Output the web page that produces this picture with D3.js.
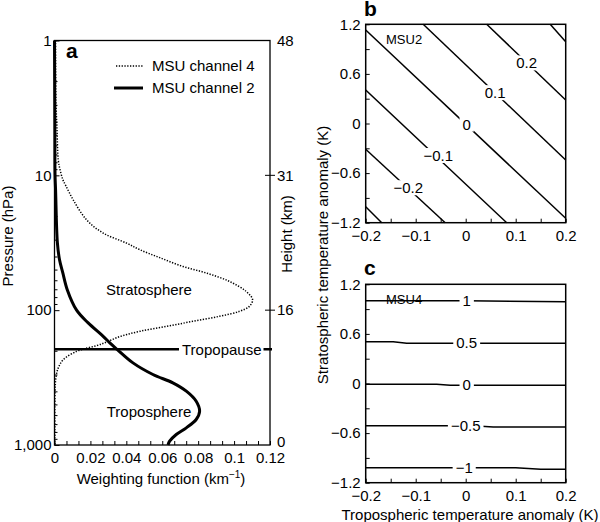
<!DOCTYPE html>
<html>
<head>
<meta charset="utf-8">
<script src="https://cdn.jsdelivr.net/npm/d3@7"></script>
<style>
body { margin: 0; background: #fff; }
svg { font-family: "Liberation Sans", Arial, sans-serif; }
</style>
</head>
<body>
<svg id="chart" width="600" height="522"></svg>
<script>
// ---- panel a data ----
var pressureTicks = [1, 10, 100, 1000];
var pressureLabels = ["1", "10", "100", "1,000"];
var heightLabels = ["48", "31", "16", "0"];
var weightTicks = [0, 0.02, 0.04, 0.06, 0.08, 0.1, 0.12];
var weightLabels = ["0", "0.02", "0.04", "0.06", "0.08", "0.1", "0.12"];

// MSU channel 4 weighting function (dotted)
var ch4Pressure = [1, 2.8, 4.6, 7.7, 9.1, 10.8, 12, 15.2, 21.4, 26.8, 31.8, 35.6, 40.8, 47.4, 53, 61.2, 72.6, 83.6,
    93.7, 102, 111, 121, 132, 143.6, 157, 180, 193, 202, 233, 268, 316, 408, 1000];
var ch4Weight = [0.0006, 0.0008, 0.0014, 0.0021, 0.0031, 0.0047, 0.0064, 0.0104, 0.0179, 0.0271, 0.0401, 0.0475, 0.0586, 0.0715, 0.0845, 0.0974, 0.1067, 0.1103,
    0.1085, 0.103, 0.0919, 0.077, 0.0623, 0.0475, 0.0364, 0.0253, 0.0169, 0.0123, 0.0049, 0.0021, 0.0008, 0.0003, 0.0002];

// MSU channel 2 weighting function (thick solid)
var ch2Pressure = [1, 4.6, 10, 12.8, 31.6, 42.3, 52.7, 70.5, 100, 123.8, 156.4, 175, 196, 246, 300, 346, 399, 474, 562, 647, 746, 836, 937, 1000];
var ch2Weight = [0, 0.0002, 0.0003, 0.0006, 0.0016, 0.0028, 0.0046, 0.0071, 0.0123, 0.0186, 0.0271, 0.0308, 0.035, 0.0437, 0.0548, 0.0659, 0.0734, 0.0789, 0.0808, 0.0789, 0.0734, 0.0678, 0.0641, 0.0632];

var tropopausePressure = 195;

// ---- panels b and c data ----
var anomalyTicksX = [-0.2, -0.1, 0, 0.1, 0.2];
var anomalyLabelsX = ["\u22120.2", "\u22120.1", "0", "0.1", "0.2"];
var anomalyTicksY = [-1.2, -0.6, 0, 0.6, 1.2];
var anomalyLabelsY = ["\u22121.2", "\u22120.6", "0", "0.6", "1.2"];
var minorTicksX = [-0.2, -0.15, -0.1, -0.05, 0, 0.05, 0.1, 0.15, 0.2];
var minorTicksY = [-1.2, -0.9, -0.6, -0.3, 0, 0.3, 0.6, 0.9, 1.2];

// MSU2 contours: [tropospheric, stratospheric] points
var msu2Levels = ["0.3", "0.2", "0.1", "0", "\u22120.1", "\u22120.2", "\u22120.3"];
var msu2Lines = [
    [[0.169, 1.2], [0.2, 0.99]],
    [[0.042, 1.2], [0.2, 0.285]],
    [[-0.085, 1.2], [0.2, -0.441]],
    [[-0.2, 1.131], [0.2, -1.147]],
    [[-0.2, 0.406], [0.082, -1.2]],
    [[-0.2, -0.312], [-0.041, -1.2]],
    [[-0.2, -1.006], [-0.168, -1.2]]
];
var msu2LabelPos = [null, [0.122, 0.73], [0.059, 0.37], [0.002, -0.01], [-0.055, -0.39], [-0.115, -0.78], null];

// MSU4 contours
var msu4Levels = ["1", "0.5", "0", "\u22120.5", "\u22121"];
var msu4Lines = [
    [[-0.2, 1.002], [0.0, 1.0], [0.2, 0.99]],
    [[-0.2, 0.506], [-0.145, 0.506], [-0.118, 0.488], [0.2, 0.486]],
    [[-0.2, -0.01], [-0.058, -0.01], [-0.031, -0.022], [0.2, -0.022]],
    [[-0.2, -0.51], [0.015, -0.51], [0.055, -0.526], [0.2, -0.526]],
    [[-0.2, -1.018], [0.1, -1.02], [0.15, -1.036], [0.2, -1.038]]
];
var msu4LabelPos = [[0.002, 1.0], [0.002, 0.49], [0.002, -0.015], [0.0, -0.515], [-0.003, -1.02]];

var svg = d3.select("#chart");
var FONT = "Liberation Sans, Arial, sans-serif";

/**
 * restyle an axis group the way the figure looks
 */
function styleAxis(g) {
    g.attr("font-size", 15).attr("font-family", FONT);
    g.select(".domain").remove();
    g.selectAll("line").attr("stroke", "#000").attr("stroke-width", 1);
}

/**
 * puts a white box behind a text so the line under it looks broken
 */
function textWithGap(parent, x, y, str, padX, padY) {
    var grp = parent.append("g");
    var rect = grp.append("rect").attr("fill", "#fff");
    var t = grp.append("text")
        .attr("x", x).attr("y", y)
        .attr("text-anchor", "middle")
        .attr("dy", "0.35em")
        .attr("font-size", 15)
        .text(str);
    var bb = t.node().getBBox();
    rect.attr("x", bb.x - padX).attr("y", bb.y + 2 - padY)
        .attr("width", bb.width + 2 * padX).attr("height", bb.height - 4 + 2 * padY);
    return t;
}

// ================= panel a =================
var xA = d3.scaleLinear().domain([0, 0.12]).range([54.5, 270]);
var yA = d3.scaleLog().domain([1, 1000]).range([40.5, 445]);
var gA = svg.append("g");

// log minor ticks, inward
var minorP = [];
[1, 10, 100].forEach(function(dec) {
    for (var k = 2; k < 10; k++) { minorP.push(dec * k); }
});
gA.append("g").attr("transform", "translate(54.5,0)")
    .call(d3.axisLeft(yA).tickValues(minorP).tickSize(-3).tickFormat(""))
    .call(styleAxis);
gA.append("g").attr("transform", "translate(54.5,0)")
    .call(d3.axisLeft(yA).tickValues(pressureTicks).tickSize(-5).tickPadding(3)
        .tickFormat(function(d, i) { return pressureLabels[i]; }))
    .call(styleAxis);

// height labels on the right
gA.append("g").attr("transform", "translate(270,0)")
    .call(d3.axisRight(yA).tickValues(pressureTicks).tickSize(0).tickPadding(7)
        .tickFormat(function(d, i) { return heightLabels[i]; }))
    .call(styleAxis);
// nudge the bottom "0" up a little so it clears the 0.12 label
gA.selectAll("g.tick text").filter(function() { return this.textContent === "0" && +d3.select(this.parentNode).attr("transform").split(",")[1].replace(")", "") > 440 && d3.select(this).attr("x") > 0; })
    .attr("dy", "0.1em");
gA.selectAll("line.cross")
    .data([10, 100])
    .enter().append("line")
    .attr("class", "cross")
    .attr("x1", 265).attr("x2", 275)
    .attr("y1", function(d) { return yA(d); })
    .attr("y2", function(d) { return yA(d); })
    .attr("stroke", "#000").attr("stroke-width", 1);

// bottom axis: small inward ticks + labels
var minorW = d3.range(19).map(function(i) { return i * 0.12 / 18; });
gA.append("g").attr("transform", "translate(0,445)")
    .call(d3.axisBottom(xA).tickValues(minorW).tickSize(-4).tickFormat(""))
    .call(styleAxis);
gA.append("g").attr("transform", "translate(0,445)")
    .call(d3.axisBottom(xA).tickValues(weightTicks).tickSize(0).tickPadding(7)
        .tickFormat(function(d, i) { return weightLabels[i]; }))
    .call(styleAxis);

gA.append("rect")
    .attr("x", xA(0)).attr("y", yA(1))
    .attr("width", xA(0.12) - xA(0)).attr("height", yA(1000) - yA(1))
    .attr("fill", "none").attr("stroke", "#000").attr("stroke-width", 1.3);

var profile = d3.line()
    .x(function(d) { return xA(d.w); })
    .y(function(d) { return yA(d.p); })
    .curve(d3.curveCatmullRom);

var ch4 = ch4Pressure.map(function(p, i) { return {p: p, w: ch4Weight[i]}; });
var ch2 = ch2Pressure.map(function(p, i) { return {p: p, w: ch2Weight[i]}; });

gA.append("path").datum(ch4)
    .attr("d", profile)
    .attr("fill", "none").attr("stroke", "#000")
    .attr("stroke-width", 1.5).attr("stroke-dasharray", "1.3,1.5");

// tropopause line with its label sitting on it
gA.append("line")
    .attr("x1", xA(0)).attr("x2", 272)
    .attr("y1", yA(tropopausePressure)).attr("y2", yA(tropopausePressure))
    .attr("stroke", "#000").attr("stroke-width", 2.5);
var tp = gA.append("g");
var tpRect = tp.append("rect").attr("fill", "#fff");
var tpText = tp.append("text")
    .attr("x", 182).attr("y", yA(tropopausePressure)).attr("dy", "0.35em")
    .attr("font-size", 15).text("Tropopause");
var tb = tpText.node().getBBox();
tpRect.attr("x", tb.x - 3).attr("y", tb.y).attr("width", tb.width + 5).attr("height", tb.height);

gA.append("path").datum(ch2)
    .attr("d", profile)
    .attr("fill", "none").attr("stroke", "#000")
    .attr("stroke-width", 3).attr("stroke-linejoin", "round");

gA.append("text").attr("x", 149).attr("y", 295).attr("text-anchor", "middle")
    .attr("font-size", 15).text("Stratosphere");
gA.append("text").attr("x", 149).attr("y", 417).attr("text-anchor", "middle")
    .attr("font-size", 15).text("Troposphere");

// legend
gA.append("line").attr("x1", 116).attr("x2", 143).attr("y1", 66).attr("y2", 66)
    .attr("stroke", "#000").attr("stroke-width", 1.5).attr("stroke-dasharray", "1.3,1.5");
gA.append("line").attr("x1", 114).attr("x2", 143).attr("y1", 88).attr("y2", 88)
    .attr("stroke", "#000").attr("stroke-width", 3);
gA.append("text").attr("x", 152).attr("y", 71).attr("font-size", 15).text("MSU channel 4");
gA.append("text").attr("x", 152).attr("y", 93).attr("font-size", 15).text("MSU channel 2");

gA.append("text").attr("x", 66).attr("y", 58).attr("font-size", 21)
    .attr("font-weight", "bold").text("a");

// axis titles
gA.append("text").attr("transform", "translate(13,236) rotate(-90)")
    .attr("text-anchor", "middle").attr("font-size", 15).text("Pressure (hPa)");
gA.append("text").attr("transform", "translate(292,234) rotate(-90)")
    .attr("text-anchor", "middle").attr("font-size", 15).text("Height (km)");
var wt = gA.append("text").attr("x", 161).attr("y", 484)
    .attr("text-anchor", "middle").attr("font-size", 15);
wt.append("tspan").text("Weighting function (km");
wt.append("tspan").attr("dy", -6).attr("font-size", 10).text("\u22121");
wt.append("tspan").attr("dy", 6).text(")");

// ================= panels b and c =================
var xB = d3.scaleLinear().domain([-0.2, 0.2]).range([365.7, 565.7]);

/**
 * draws one contour panel
 * @param top, bottom pixel range of the panel
 */
function contourPanel(top, bottom, lines, levels, labelPos, name, letter, letterY) {
    var y = d3.scaleLinear().domain([-1.2, 1.2]).range([bottom, top]);
    var g = svg.append("g");

    g.append("g").attr("transform", "translate(365.7,0)")
        .call(d3.axisLeft(y).tickValues(minorTicksY).tickSize(-4).tickFormat(""))
        .call(styleAxis);
    g.append("g").attr("transform", "translate(365.7,0)")
        .call(d3.axisLeft(y).tickValues(anomalyTicksY).tickSize(0).tickPadding(5)
            .tickFormat(function(d, i) { return anomalyLabelsY[i]; }))
        .call(styleAxis);
    g.append("g").attr("transform", "translate(0," + bottom + ")")
        .call(d3.axisBottom(xB).tickValues(minorTicksX).tickSize(-4).tickFormat(""))
        .call(styleAxis);
    g.append("g").attr("transform", "translate(0," + bottom + ")")
        .call(d3.axisBottom(xB).tickValues(anomalyTicksX).tickSize(0).tickPadding(8)
            .tickFormat(function(d, i) { return anomalyLabelsX[i]; }))
        .call(styleAxis);

    var contour = d3.line()
        .x(function(d) { return xB(d[0]); })
        .y(function(d) { return y(d[1]); });

    g.selectAll("path.contour")
        .data(lines)
        .enter().append("path")
        .attr("class", "contour")
        .attr("d", contour)
        .attr("fill", "none").attr("stroke", "#000").attr("stroke-width", 1.5);

    labelPos.forEach(function(pos, i) {
        if (pos) {
            textWithGap(g, xB(pos[0]), y(pos[1]), levels[i], 3, 1);
        }
    });

    g.append("rect")
        .attr("x", 365.7).attr("y", top)
        .attr("width", 200).attr("height", bottom - top)
        .attr("fill", "none").attr("stroke", "#000").attr("stroke-width", 1.5);

    g.append("text").attr("x", 386).attr("y", top + 19.5)
        .attr("font-size", 13).text(name);
    g.append("text").attr("x", 364).attr("y", letterY)
        .attr("font-size", 21).attr("font-weight", "bold").text(letter);
}

contourPanel(24.3, 222.7, msu2Lines, msu2Levels, msu2LabelPos, "MSU2", "b", 16);
contourPanel(284.3, 482.7, msu4Lines, msu4Levels, msu4LabelPos, "MSU4", "c", 275);

svg.append("text").attr("transform", "translate(328,255) rotate(-90)")
    .attr("text-anchor", "middle").attr("font-size", 15)
    .text("Stratospheric temperature anomaly (K)");
svg.append("text").attr("x", 470).attr("y", 520)
    .attr("text-anchor", "middle").attr("font-size", 15)
    .text("Tropospheric temperature anomaly (K)");
</script>
</body>
</html>
